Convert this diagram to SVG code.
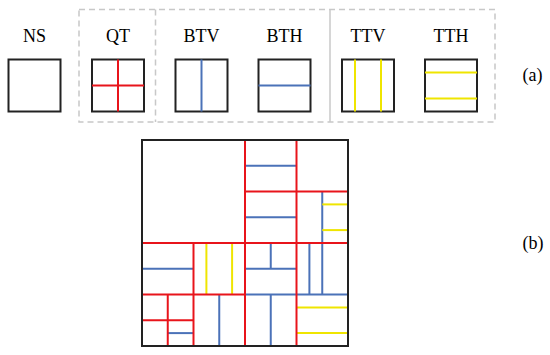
<svg xmlns="http://www.w3.org/2000/svg" width="550" height="355" viewBox="0 0 550 355">
<style>
.lbl{font-family:"Liberation Serif","Times New Roman",serif;font-size:18px;fill:#000;text-anchor:middle}
.box{fill:#fff;stroke:#222;stroke-width:2}
.r{stroke:#e8141b;stroke-width:2;fill:none}
.b{stroke:#4b72b8;stroke-width:2;fill:none}
.y{stroke:#efe500;stroke-width:2;fill:none}
.dash{fill:none;stroke:#c8c8c8;stroke-width:1.5;stroke-dasharray:6,4}
.sep{fill:none;stroke:#c8c8c8;stroke-width:1.5}
</style>
<rect width="550" height="355" fill="#fff"/>
<g id="groups">
<rect class="dash" x="79" y="9.5" width="416" height="112.5"/>
<line class="dash" x1="155.5" y1="9.5" x2="155.5" y2="122"/>
<line class="sep" x1="330" y1="9.5" x2="330" y2="122"/>
</g>
<g id="NS">
<text class="lbl" x="34.5" y="42">NS</text>
<rect class="box" x="8.5" y="59.5" width="52" height="52"/>
</g>
<g id="QT">
<text class="lbl" x="118" y="42">QT</text>
<rect class="box" x="92" y="59.5" width="52" height="52"/>
<line class="r" x1="118" y1="59.5" x2="118" y2="111.5"/>
<line class="r" x1="92" y1="85.5" x2="144" y2="85.5"/>
</g>
<g id="BTV">
<text class="lbl" x="201.5" y="42">BTV</text>
<rect class="box" x="175.5" y="59.5" width="52" height="52"/>
<line class="b" x1="201.5" y1="59.5" x2="201.5" y2="111.5"/>
</g>
<g id="BTH">
<text class="lbl" x="284.5" y="42">BTH</text>
<rect class="box" x="258.5" y="59.5" width="52" height="52"/>
<line class="b" x1="258.5" y1="85.5" x2="310.5" y2="85.5"/>
</g>
<g id="TTV">
<text class="lbl" x="368" y="42">TTV</text>
<rect class="box" x="342" y="59.5" width="52" height="52"/>
<line class="y" x1="355" y1="59.5" x2="355" y2="111.5"/>
<line class="y" x1="381" y1="59.5" x2="381" y2="111.5"/>
</g>
<g id="TTH">
<text class="lbl" x="451" y="42">TTH</text>
<rect class="box" x="425" y="59.5" width="52" height="52"/>
<line class="y" x1="425" y1="72.5" x2="477" y2="72.5"/>
<line class="y" x1="425" y1="98.5" x2="477" y2="98.5"/>
</g>
<text class="lbl" x="532.5" y="81">(a)</text>
<text class="lbl" x="533" y="249">(b)</text>
<g id="partition">
<rect x="142" y="140" width="206" height="206" fill="#fff"/>
<g id="bt-lines" class="b">
<line x1="245" y1="165.75" x2="296.5" y2="165.75"/>
<line x1="245" y1="217.25" x2="296.5" y2="217.25"/>
<line x1="322.25" y1="191.5" x2="322.25" y2="294.5"/>
<line x1="142" y1="268.75" x2="193.5" y2="268.75"/>
<line x1="167.75" y1="333.1" x2="193.5" y2="333.1"/>
<line x1="219.25" y1="294.5" x2="219.25" y2="346"/>
<line x1="245" y1="268.75" x2="296.5" y2="268.75"/>
<line x1="270.75" y1="243" x2="270.75" y2="268.75"/>
<line x1="309.4" y1="243" x2="309.4" y2="294.5"/>
<line x1="245" y1="294.5" x2="348" y2="294.5"/>
<line x1="270.75" y1="294.5" x2="270.75" y2="346"/>
</g>
<g id="tt-lines" class="y">
<line x1="322.25" y1="204.4" x2="348" y2="204.4"/>
<line x1="322.25" y1="230.1" x2="348" y2="230.1"/>
<line x1="206.4" y1="243" x2="206.4" y2="294.5"/>
<line x1="232.1" y1="243" x2="232.1" y2="294.5"/>
<line x1="296.5" y1="307.4" x2="348" y2="307.4"/>
<line x1="296.5" y1="333.1" x2="348" y2="333.1"/>
</g>
<g id="qt-lines" class="r">
<line x1="245" y1="140" x2="245" y2="346"/>
<line x1="296.5" y1="140" x2="296.5" y2="346"/>
<line x1="245" y1="191.5" x2="348" y2="191.5"/>
<line x1="142" y1="243" x2="348" y2="243"/>
<line x1="142" y1="294.5" x2="245" y2="294.5"/>
<line x1="193.5" y1="243" x2="193.5" y2="346"/>
<line x1="167.75" y1="294.5" x2="167.75" y2="346"/>
<line x1="142" y1="320.25" x2="193.5" y2="320.25"/>
</g>
<rect x="142" y="140" width="206" height="206" fill="none" stroke="#222" stroke-width="2"/>
</g>
</svg>
